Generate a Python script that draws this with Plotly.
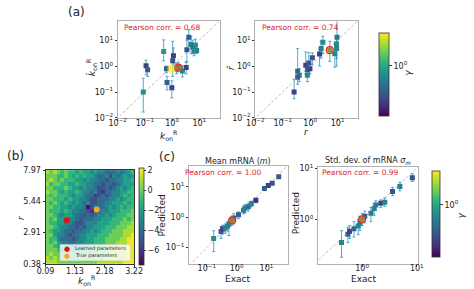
import numpy as np
import plotly.graph_objects as go

W, H = 474, 289
def fx(px): return px / W
def fy(py): return 1 - py / H

FONT = "DejaVu Sans"

# ---------------- data ----------------
# (a) left: k_on^R true vs predicted
a1_x   = [0.087, 0.11, 0.126, 0.49, 0.62, 0.65, 0.98, 1.05, 1.12, 1.45, 1.7, 2.4, 3.3, 3.5, 4.1, 5.0, 5.8, 7.2, 8.0, 6.5]
a1_y   = [0.10, 1.02, 0.72, 3.6, 0.78, 0.23, 0.145, 1.6, 2.5, 0.75, 0.87, 0.65, 0.87, 4.2, 13.0, 6.8, 5.4, 6.3, 4.0, 3.8]
a1_lo  = [0.017, 0.46, 0.40, 1.6, 0.55, 0.12, 0.06, 0.40, 1.1, 0.5, 0.6, 0.38, 0.5, 1.5, 6.0, 3.0, 3.0, 4.0, 3.0, 2.5]
a1_hi  = [0.34, 1.7, 1.1, 10.2, 1.0, 0.40, 0.27, 9.0, 5.0, 1.3, 1.4, 1.0, 1.4, 10.0, 25.0, 14.0, 10.0, 11.0, 6.0, 6.0]
a1_g   = [0.7, 0.25, 0.35, 0.8, 0.35, 0.35, 0.25, 0.3, 0.25, 1.0, 0.25, 0.6, 0.25, 0.3, 0.35, 0.6, 0.4, 0.7, 0.6, 0.65]
a1_hl_yellow = (0.98, 0.79)
a1_hl_red    = (1.7, 0.87)
a1_corr = "0.68"

# (a) right: r true vs predicted
a2_x   = [0.26, 0.35, 0.40, 0.35, 0.69, 0.79, 0.79, 0.89, 0.98, 1.2, 2.2, 2.5, 2.9, 5.2, 7.9, 9.1, 9.5, 9.2]
a2_y   = [0.10, 0.63, 0.44, 0.38, 1.07, 0.72, 0.44, 1.3, 0.78, 2.1, 2.9, 4.7, 8.3, 4.1, 3.0, 7.2, 13.0, 4.7]
a2_lo  = [0.055, 0.3, 0.25, 0.2, 0.5, 0.45, 0.25, 0.5, 0.5, 1.1, 1.0, 2.0, 3.0, 1.5, 0.9, 2.0, 5.0, 1.0]
a2_hi  = [0.31, 4.7, 0.8, 0.6, 3.5, 1.2, 0.8, 3.3, 1.3, 3.2, 4.5, 9.0, 14.0, 9.0, 7.0, 14.0, 60.0, 8.0]
a2_g   = [0.25, 0.4, 0.55, 0.35, 0.25, 0.35, 0.6, 0.3, 0.25, 0.3, 0.25, 0.6, 0.65, 0.6, 0.6, 0.7, 0.5, 0.6]
a2_hl_red = (5.2, 4.1)
a2_corr = "0.74"

# (b) heatmap of log posterior over (k_on^R, r); digit d -> value d-7, rows top (r=7.97) to bottom
b_rows = [
    "878767665655454433343456",
    "777667656565543342434545",
    "787676665545443323344556",
    "867766556554433233234555",
    "776667655454432232345456",
    "877656556544342133445566",
    "767666545543312323445656",
    "776665655443223334454566",
    "767656545434223344555656",
    "776655454430243345456566",
    "766656544332133445556667",
    "776545543323234454566677",
    "767555443233344555666767",
    "766554432234445556667778",
    "776544332324455566677788",
    "765543323344545666777888",
    "775443233445556667777889",
    "766433323445566677778899",
    "767544334455566677788899",
    "776555445555666777788899",
    "777655555566667777888899",
    "787766666666677778888899",
    "878777666777777788888899",
    "888777777777778888888999",
]
b_kon_range = (0.09, 3.22)
b_r_range = (0.38, 7.97)
b_xticks = [0.09, 1.13, 2.18, 3.22]
b_yticks = [0.38, 2.91, 5.44, 7.97]
b_learned = (0.84, 3.9)
b_true = (1.9, 4.78)
b_legend = ["Learned parameters", "True parameters"]

# (c) left: mean mRNA exact vs predicted
c1_x  = [0.17, 0.30, 0.34, 0.42, 0.49, 0.55, 0.71, 0.79, 1.15, 1.7, 1.9, 2.45, 3.1, 4.4, 8.5, 11.5, 15.5, 25.7]
c1_y  = [0.20, 0.34, 0.41, 0.45, 0.51, 0.59, 0.79, 0.95, 1.2, 1.7, 2.0, 2.2, 2.8, 3.6, 8.9, 11.0, 13.2, 21.4]
c1_lo = [0.074, 0.2, 0.28, 0.3, 0.35, 0.25, 0.55, 0.6, 0.9, 1.3, 1.4, 1.6, 2.2, 3.0, 8.0, 10.0, 12.0, 19.5]
c1_hi = [0.36, 0.5, 0.55, 0.6, 0.7, 0.8, 1.0, 1.3, 1.5, 2.2, 2.6, 2.9, 3.4, 4.2, 9.8, 12.0, 14.4, 23.5]
c1_g  = [0.7, 0.35, 0.25, 0.6, 0.6, 0.55, 0.35, 0.4, 0.35, 0.55, 0.6, 0.4, 0.6, 0.2, 0.35, 0.25, 0.3, 0.35]
c1_hl_red = (0.71, 0.79)
c1_corr = "1.00"

# (c) right: std of mRNA exact vs predicted
c2_x  = [0.42, 0.55, 0.59, 0.71, 0.85, 0.91, 1.0, 1.12, 1.45, 1.66, 1.78, 2.2, 2.6, 3.6, 4.9, 8.3]
c2_y  = [0.35, 0.51, 0.58, 0.65, 0.74, 0.85, 1.0, 1.15, 1.32, 1.62, 1.9, 2.05, 2.15, 3.5, 4.4, 6.5]
c2_lo = [0.18, 0.35, 0.42, 0.45, 0.5, 0.6, 0.75, 0.85, 0.9, 1.2, 1.5, 1.7, 1.8, 2.9, 3.6, 5.5]
c2_hi = [0.6, 0.7, 0.75, 0.9, 1.0, 1.15, 1.3, 1.45, 1.7, 2.0, 2.3, 2.4, 2.6, 4.2, 5.3, 7.8]
c2_g  = [0.6, 0.35, 0.25, 0.4, 0.6, 0.55, 0.5, 0.35, 0.55, 0.6, 0.55, 0.25, 0.6, 0.3, 0.6, 0.3]
c2_hl_red = (1.0, 1.0)
c2_corr = "0.99"

GAMMA_LOG_RANGE = (-0.9, 0.6)
B_Z_RANGE = (-7.5, 2.2)
LOG_TICKS = [-2, -1, 0, 1]

# ---------------- figure ----------------
fig = go.Figure()
ERRC = "rgba(60,150,200,0.85)"
RED = "#d9232d"
LEARNED_C = "#e01010"
TRUE_C = "#f5a623"

def diag(xa, ya):
    fig.add_trace(go.Scatter(x=[1e-3, 1e3], y=[1e-3, 1e3], mode="lines", xaxis=xa, yaxis=ya,
                             line=dict(color="#a0a0a0", width=0.7, dash="3px,2px"),
                             showlegend=False, hoverinfo="skip"))

def scatter(xa, ya, x, y, lo, hi, g, cb=None):
    x = np.array(x, float); y = np.array(y, float)
    lo = np.array(lo, float); hi = np.array(hi, float)
    m = dict(symbol="square", size=5, color=np.log10(np.array(g, float)),
             colorscale="Viridis", cmin=GAMMA_LOG_RANGE[0], cmax=GAMMA_LOG_RANGE[1],
             line=dict(width=0), showscale=cb is not None)
    if cb is not None:
        m["colorbar"] = cb
    fig.add_trace(go.Scatter(x=x, y=y, mode="markers", xaxis=xa, yaxis=ya, marker=m,
                             error_y=dict(type="data", symmetric=False, array=hi - y, arrayminus=y - lo,
                                          color=ERRC, thickness=1, width=1.5),
                             showlegend=False))

def ring(xa, ya, pt):
    fig.add_trace(go.Scatter(x=[pt[0]], y=[pt[1]], mode="markers", xaxis=xa, yaxis=ya,
                             marker=dict(symbol="circle", size=7, color="rgba(255,165,0,0.45)",
                                         line=dict(color="#e0301e", width=1.2)),
                             showlegend=False))

def gamma_cb(px_left, py_mid, length, thick):
    return dict(x=fx(px_left), xanchor="left", y=fy(py_mid), yanchor="middle",
                len=length, lenmode="pixels", thickness=thick, thicknessmode="pixels",
                tickvals=[0], ticktext=["10<sup>0</sup>"], ticks="outside", ticklen=3,
                tickfont=dict(size=8, family=FONT, color="#222"),
                outlinewidth=0.8, outlinecolor="#333", xpad=0, ypad=0)

# (a) left
diag("x", "y")
scatter("x", "y", a1_x, a1_y, a1_lo, a1_hi, a1_g, cb=gamma_cb(385, 71.5, 83, 10))
fig.add_trace(go.Scatter(x=[a1_hl_yellow[0]], y=[a1_hl_yellow[1]], mode="markers", xaxis="x", yaxis="y",
                         marker=dict(symbol="circle", size=9, color="rgba(255,235,40,0.65)", line=dict(width=0)),
                         showlegend=False))
ring("x", "y", a1_hl_red)

# (a) right
diag("x2", "y2")
scatter("x2", "y2", a2_x, a2_y, a2_lo, a2_hi, a2_g)
ring("x2", "y2", a2_hl_red)

# (b) heatmap
z = np.array([[int(c) - 7 for c in row] for row in b_rows[::-1]], float)
ny, nx = z.shape
dxb = (b_kon_range[1] - b_kon_range[0]) / nx
dyb = (b_r_range[1] - b_r_range[0]) / ny
fig.add_trace(go.Heatmap(z=z, x0=b_kon_range[0] + dxb / 2, dx=dxb, y0=b_r_range[0] + dyb / 2, dy=dyb,
                         xaxis="x3", yaxis="y3", colorscale="Viridis", zmin=B_Z_RANGE[0], zmax=B_Z_RANGE[1],
                         colorbar=dict(x=fx(135), xanchor="left", y=fy(219.5), yanchor="middle",
                                       len=97, lenmode="pixels", thickness=5, thicknessmode="pixels",
                                       tickvals=[-6, -4, -2, 0, 2], ticktext=["\u22126", "\u22124", "\u22122", "0", "2"],
                                       ticks="outside", ticklen=2,
                                       tickfont=dict(size=8, family=FONT, color="#222"),
                                       outlinewidth=0.8, outlinecolor="#333", xpad=0, ypad=0),
                         hoverinfo="skip", showlegend=False))
fig.add_trace(go.Scatter(x=[b_learned[0]], y=[b_learned[1]], mode="markers", xaxis="x3", yaxis="y3",
                         marker=dict(symbol="circle", size=6, color=LEARNED_C), name=b_legend[0], showlegend=False))
fig.add_trace(go.Scatter(x=[b_true[0]], y=[b_true[1]], mode="markers", xaxis="x3", yaxis="y3",
                         marker=dict(symbol="circle", size=6, color=TRUE_C), name=b_legend[1], showlegend=False))

# (c) left
diag("x4", "y4")
scatter("x4", "y4", c1_x, c1_y, c1_lo, c1_hi, c1_g)
ring("x4", "y4", c1_hl_red)

# (c) right
diag("x5", "y5")
scatter("x5", "y5", c2_x, c2_y, c2_lo, c2_hi, c2_g, cb=gamma_cb(440, 216, 86, 8))
ring("x5", "y5", c2_hl_red)

# ---------------- axes ----------------
tickfont = dict(size=8, family=FONT, color="#222")
def sup(n):
    return "10<sup>" + (("\u2212" + str(-n)) if n < 0 else str(n)) + "</sup>"

def ax(domain, anchor, rng=None, log=True, is_x=True, **kw):
    d = dict(domain=domain, anchor=anchor, showgrid=False, zeroline=False, showline=True,
             linecolor="#b0b0b0", linewidth=1, mirror=True, ticks="outside", ticklen=2,
             tickwidth=0.8, tickcolor="#333", tickfont=tickfont)
    if log:
        d.update(type="log", tickmode="array", tickvals=[10.0 ** n for n in LOG_TICKS],
                 ticktext=[sup(n) for n in LOG_TICKS])
        if is_x:
            d["ticklabelstandoff"] = -5
    if rng is not None:
        d["range"] = rng
    d.update(kw)
    return d

ya_dom = [fy(117), fy(17)]
yc_dom = [fy(268), fy(167)]
fig.update_layout(
    xaxis=ax([fx(113), fx(219)], "y", [-2, 1.75]),
    yaxis=ax(ya_dom, "x", [-2, 1.72], is_x=False),
    xaxis2=ax([fx(256), fx(363)], "y2", [-2, 1.75]),
    yaxis2=ax(ya_dom, "x2", [-2, 1.72], is_x=False),
    xaxis3=ax([fx(38), fx(130)], "y3", list(b_kon_range), log=False,
              tickvals=b_xticks, ticktext=[f"{v:.2f}" for v in b_xticks], linecolor="#333",
              ticklabelstandoff=-2),
    yaxis3=ax([fy(268), fy(171)], "x3", list(b_r_range), log=False,
              tickvals=b_yticks, ticktext=[f"{v:.2f}" for v in b_yticks], linecolor="#333"),
    xaxis4=ax([fx(187), fx(290)], "y4", [-1.6, 1.72]),
    yaxis4=ax(yc_dom, "x4", [-1.53, 1.68], is_x=False),
    xaxis5=ax([fx(321), fx(425)], "y5", [-0.81, 1.02]),
    yaxis5=ax([fy(268), fy(168)], "x5", [-0.87, 1.02], is_x=False),
)

# ---------------- annotations ----------------
ann = []
def txt(px, py, s, size=9, color="#222", angle=0, xanchor="center", yanchor="middle"):
    ann.append(dict(x=fx(px), y=fy(py), xref="paper", yref="paper", text=s, showarrow=False,
                    font=dict(size=size, family=FONT, color=color), textangle=angle,
                    xanchor=xanchor, yanchor=yanchor, borderpad=0))

txt(70, 7, "(a)", 12)
txt(7, 156, "(b)", 12)
txt(164, 157, "(c)", 12)
txt(160, 23, f"Pearson corr. = {a1_corr}", 7.5, RED)
txt(303, 23, f"Pearson corr. = {a2_corr}", 7.5, RED)
txt(223, 174, f"Pearson corr. = {c1_corr}", 7.5, RED)
txt(365, 174, f"Pearson corr. = {c2_corr}", 7.5, RED)
txt(238, 162, "Mean mRNA (<i>m</i>)", 8)
txt(373, 162, "Std. dev. of mRNA <i>σ</i><sub><i>m</i></sub>", 8)
txt(166, 135, "<i>k</i><sub>on</sub><sup>R</sup>", 9)
txt(309, 132, "<i>r</i>", 9)
txt(81, 285.5, "<i>k</i><sub>on</sub><sup>R</sup>", 9)
txt(237, 284, "Exact", 9)
txt(368, 284, "Exact", 9)
txt(86, 65, "<i>k\u0302</i><sub>on</sub><sup>R</sup>", 9, angle=-90)
txt(230, 65, "<i>r\u0302</i>", 9, angle=-90)
txt(13, 220, "<i>r</i>", 9, angle=-90)
txt(159, 218, "Predicted", 9, angle=-90)
txt(298, 216, "Predicted", 9, angle=-90)
txt(414, 70, "<i>γ</i>", 9, angle=-90)
txt(470, 218, "<i>γ</i>", 9, angle=-90)

# manual legend for panel (b)
txt(60, 252.5, "\u25cf", 7, LEARNED_C)
txt(60, 259.5, "\u25cf", 7, TRUE_C)
txt(68, 252.5, b_legend[0], 5, xanchor="left")
txt(68, 259.5, b_legend[1], 5, xanchor="left")

fig.update_layout(
    width=W, height=H, margin=dict(l=0, r=0, t=0, b=0),
    paper_bgcolor="white", plot_bgcolor="white",
    font=dict(family=FONT, size=8, color="#222"),
    annotations=ann, showlegend=False,
    shapes=[dict(type="rect", xref="paper", yref="paper", x0=fx(53), x1=fx(126), y0=fy(265), y1=fy(248),
                 fillcolor="rgba(255,255,255,0.8)", line=dict(color="#cccccc", width=0.5), layer="above")],
)
fig.write_html("out.html")
